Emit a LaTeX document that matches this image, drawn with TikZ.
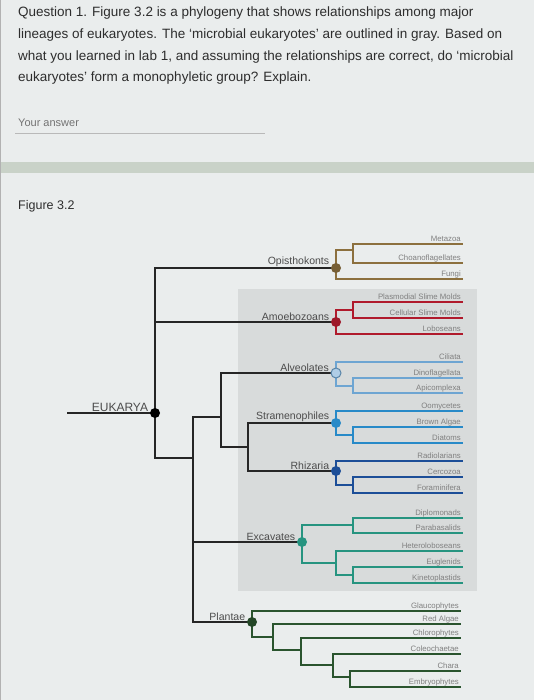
\documentclass[tikz,border=0pt]{standalone}
\usepackage{fontspec}
\setmainfont{Liberation Sans}
\usepackage{xcolor}
\definecolor{pagebg}{RGB}{234,237,237}
\definecolor{bandcol}{RGB}{201,210,200}
\definecolor{microgray}{RGB}{216,219,219}
\definecolor{textcol}{RGB}{45,45,45}
\definecolor{opiscol}{RGB}{140,112,62}
\definecolor{amoecol}{RGB}{176,26,44}
\definecolor{alvecol}{RGB}{110,165,210}
\definecolor{stracol}{RGB}{40,138,200}
\definecolor{rhizcol}{RGB}{28,78,152}
\definecolor{exccol}{RGB}{38,148,128}
\definecolor{plancol}{RGB}{42,84,46}
\usetikzlibrary{positioning}

\tikzset{
  qline/.style={anchor=base west,inner sep=0pt,text=textcol,font=\fontsize{13.5}{15}\selectfont},
  trunk/.style={line width=1.6pt,draw=black!85,line cap=rect},
  twig/.style={line width=2.2pt,line cap=rect},
  dotnode/.style={circle,inner sep=0pt,minimum size=10pt},
  cladelab/.style={anchor=south east,inner sep=1.5pt,text=black!70,font=\fontsize{10.5}{11}\selectfont},
  tiplab/.style={anchor=south east,inner sep=1pt,text depth=1.5pt,text=black!50,font=\fontsize{7.8}{8.5}\selectfont},
}

\begin{document}
\begin{tikzpicture}[x=1pt,y=-1pt]
  \useasboundingbox (0,0) rectangle (534,700);
  \fill[pagebg] (0,0) rectangle (534,700);
  \fill[bandcol] (0,162) rectangle (534,173);
  \draw[gray!60,line width=1.2pt] (0.6,0) -- (0.6,700);

  % question card
  \node[qline] (q1) at (18,17) {Question 1. Figure 3.2 is a phylogeny that shows relationships among major};
  \node[qline] (q2) at (18,39) {lineages of eukaryotes. The `microbial eukaryotes' are outlined in gray. Based on};
  \node[qline] (q3) at (18,61) {what you learned in lab 1, and assuming the relationships are correct, do `microbial};
  \node[qline] (q4) at (18,82) {eukaryotes' form a monophyletic group? Explain.};
  \node[qline,text=black!55,font=\fontsize{11}{13}\selectfont] (answer) at (18,127) {Your answer};
  \draw[gray!55,line width=0.6pt] (15,133) -- (265,133);

  \node[qline,font=\fontsize{12.5}{14}\selectfont] (figlab) at (18,210) {Figure 3.2};

  % microbial eukaryotes
  \fill[microgray] (238,289) rectangle (477,591);

  % branch points
  \coordinate (eukstart) at (68,413);
  \coordinate (root) at (155,413);
  \coordinate (opis) at (336,268);
  \coordinate (amoe) at (336,322);
  \coordinate (lower) at (193,458);
  \coordinate (sar) at (221,417);
  \coordinate (alve) at (336,373);
  \coordinate (sr) at (248,447);
  \coordinate (stra) at (336,423);
  \coordinate (rhiz) at (336,471);
  \coordinate (exca) at (302,542);
  \coordinate (plan) at (252,622);

  \coordinate (opisA) at (353,250);
  \coordinate (amoeA) at (353,310);
  \coordinate (alveA) at (353,386);
  \coordinate (straA) at (353,435);
  \coordinate (rhizA) at (353,485);
  \coordinate (excA) at (353,525);
  \coordinate (excB) at (336,563);
  \coordinate (excC) at (353,575);
  \coordinate (planA) at (273,637);
  \coordinate (planB) at (301,650);
  \coordinate (planC) at (333,665);
  \coordinate (planD) at (350,677);

  % tips
  \node[tiplab] (meta) at (462,244) {Metazoa};
  \node[tiplab] (choa) at (462,263) {Choanoflagellates};
  \node[tiplab] (fung) at (462,279) {Fungi};
  \node[tiplab] (plas) at (462,302) {Plasmodial Slime Molds};
  \node[tiplab] (cell) at (462,318) {Cellular Slime Molds};
  \node[tiplab] (lobo) at (462,334) {Loboseans};
  \node[tiplab] (cili) at (462,362) {Ciliata};
  \node[tiplab] (dino) at (462,378) {Dinoflagellata};
  \node[tiplab] (apic) at (462,393) {Apicomplexa};
  \node[tiplab] (oomy) at (462,411) {Oomycetes};
  \node[tiplab] (brow) at (462,427) {Brown Algae};
  \node[tiplab] (diat) at (462,443) {Diatoms};
  \node[tiplab] (radi) at (462,461) {Radiolarians};
  \node[tiplab] (cerc) at (462,477) {Cercozoa};
  \node[tiplab] (fora) at (462,493) {Foraminifera};
  \node[tiplab] (dipl) at (462,518) {Diplomonads};
  \node[tiplab] (para) at (462,533) {Parabasalids};
  \node[tiplab] (hete) at (462,551) {Heteroloboseans};
  \node[tiplab] (eugl) at (462,567) {Euglenids};
  \node[tiplab] (kine) at (462,583) {Kinetoplastids};
  \node[tiplab] (glau) at (460,611) {Glaucophytes};
  \node[tiplab] (reda) at (460,624) {Red Algae};
  \node[tiplab] (chlo) at (460,638) {Chlorophytes};
  \node[tiplab] (cole) at (460,654) {Coleochaetae};
  \node[tiplab] (char) at (460,671) {Chara};
  \node[tiplab] (embr) at (460,687) {Embryophytes};

  % backbone
  \draw[trunk] (eukstart) -- (root);
  \draw[trunk] (root) |- (opis);
  \draw[trunk] (root) |- (amoe);
  \draw[trunk] (root) |- (lower);
  \draw[trunk] (lower) |- (sar);
  \draw[trunk] (lower) |- (exca);
  \draw[trunk] (lower) |- (plan);
  \draw[trunk] (sar) |- (alve);
  \draw[trunk] (sar) |- (sr);
  \draw[trunk] (sr) |- (stra);
  \draw[trunk] (sr) |- (rhiz);

  % clades
  \draw[twig,opiscol] (opis) |- (opisA);
  \draw[twig,opiscol] (opis) |- (fung.south east);
  \draw[twig,opiscol] (opisA) |- (meta.south east);
  \draw[twig,opiscol] (opisA) |- (choa.south east);

  \draw[twig,amoecol] (amoe) |- (amoeA);
  \draw[twig,amoecol] (amoe) |- (lobo.south east);
  \draw[twig,amoecol] (amoeA) |- (plas.south east);
  \draw[twig,amoecol] (amoeA) |- (cell.south east);

  \draw[twig,alvecol] (alve) |- (cili.south east);
  \draw[twig,alvecol] (alve) |- (alveA);
  \draw[twig,alvecol] (alveA) |- (dino.south east);
  \draw[twig,alvecol] (alveA) |- (apic.south east);

  \draw[twig,stracol] (stra) |- (oomy.south east);
  \draw[twig,stracol] (stra) |- (straA);
  \draw[twig,stracol] (straA) |- (brow.south east);
  \draw[twig,stracol] (straA) |- (diat.south east);

  \draw[twig,rhizcol] (rhiz) |- (radi.south east);
  \draw[twig,rhizcol] (rhiz) |- (rhizA);
  \draw[twig,rhizcol] (rhizA) |- (cerc.south east);
  \draw[twig,rhizcol] (rhizA) |- (fora.south east);

  \draw[twig,exccol] (exca) |- (excA);
  \draw[twig,exccol] (exca) |- (excB);
  \draw[twig,exccol] (excA) |- (dipl.south east);
  \draw[twig,exccol] (excA) |- (para.south east);
  \draw[twig,exccol] (excB) |- (hete.south east);
  \draw[twig,exccol] (excB) |- (excC);
  \draw[twig,exccol] (excC) |- (eugl.south east);
  \draw[twig,exccol] (excC) |- (kine.south east);

  \draw[twig,plancol] (plan) |- (glau.south east);
  \draw[twig,plancol] (plan) |- (planA);
  \draw[twig,plancol] (planA) |- (reda.south east);
  \draw[twig,plancol] (planA) |- (planB);
  \draw[twig,plancol] (planB) |- (chlo.south east);
  \draw[twig,plancol] (planB) |- (planC);
  \draw[twig,plancol] (planC) |- (cole.south east);
  \draw[twig,plancol] (planC) |- (planD);
  \draw[twig,plancol] (planD) |- (char.south east);
  \draw[twig,plancol] (planD) |- (embr.south east);

  % dots and clade names
  \node[dotnode,fill=black] (rootdot) at (root) {};
  \node[dotnode,fill=opiscol!85!black] (opisdot) at (opis) {};
  \node[dotnode,fill=amoecol!90!black] (amoedot) at (amoe) {};
  \node[dotnode,fill=alvecol!55!white,draw=alvecol!80!black,line width=1pt] (alvedot) at (alve) {};
  \node[dotnode,fill=stracol] (stradot) at (stra) {};
  \node[dotnode,fill=rhizcol] (rhizdot) at (rhiz) {};
  \node[dotnode,fill=exccol] (excadot) at (exca) {};
  \node[dotnode,fill=plancol!85!black] (plandot) at (plan) {};

  \node[cladelab,font=\fontsize{12}{13}\selectfont] (euklab) at (rootdot.west) {EUKARYA};
  \node[cladelab] (opislab) at (opisdot.west) {Opisthokonts};
  \node[cladelab] (amoelab) at (amoedot.west) {Amoebozoans};
  \node[cladelab] (alvelab) at (alvedot.west) {Alveolates};
  \node[cladelab] (stralab) at (stradot.west) {Stramenophiles};
  \node[cladelab] (rhizlab) at (rhizdot.west) {Rhizaria};
  \node[cladelab] (excalab) at (excadot.west) {Excavates};
  \node[cladelab] (planlab) at (plandot.west) {Plantae};
\end{tikzpicture}
\end{document}
